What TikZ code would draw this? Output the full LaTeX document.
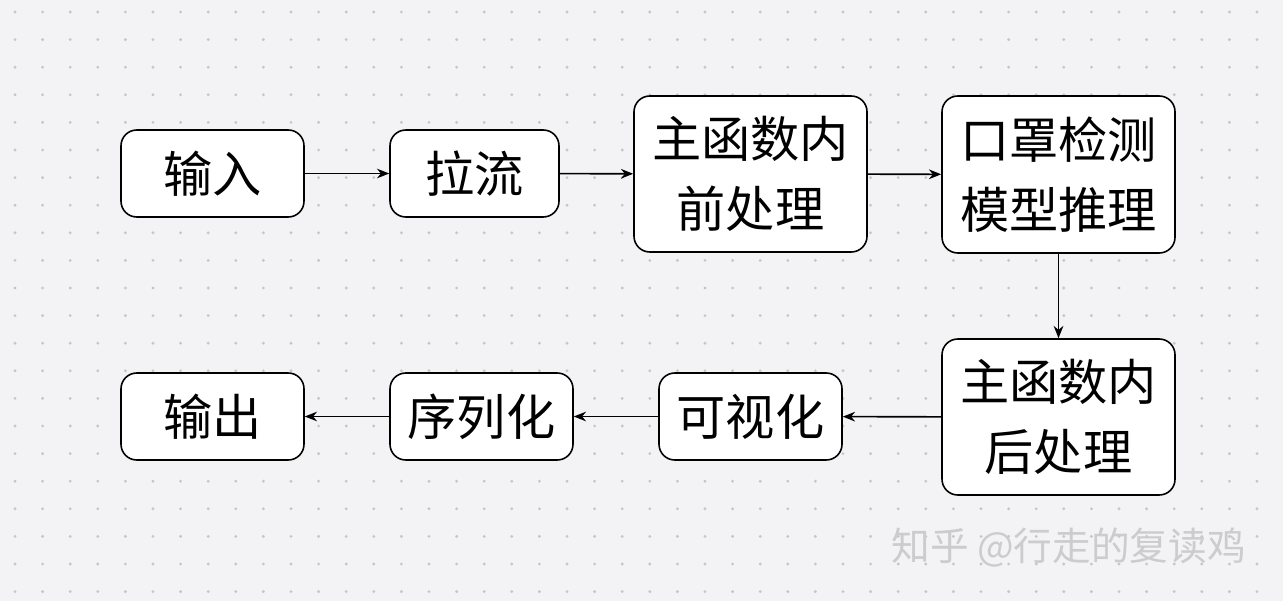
\documentclass[tikz,border=0pt]{standalone}
\usepackage{fontspec}
\newfontfamily\cjk{Noto Sans CJK SC}
\usetikzlibrary{arrows.meta}
\begin{document}
\begin{tikzpicture}[x=0.02cm,y=-0.02cm,
  box/.style={draw=black,line width=0.9pt,fill=white,rounded corners=9pt,inner sep=0pt,font=\cjk\fontsize{28}{40}\selectfont,align=center},
  arr/.style={-{Stealth[length=7pt,width=5.5pt]},line width=0.9pt}]
\fill[color={rgb,255:red,243;green,243;blue,245}] (0,0) rectangle (1283,601);
\useasboundingbox (0,0) rectangle (1283,601);
\foreach \i in {0,...,46}{\foreach \j in {0,...,21}{
  \fill[gray!45] (15+\i*27.6,12+\j*27.6) circle (0.9pt);}}
\node[box,minimum width=183*0.02cm,minimum height=87*0.02cm] (in) at (212.5,173.5) {输入};
\node[box,minimum width=169*0.02cm,minimum height=87*0.02cm] (pull) at (474.5,173.5) {拉流};
\node[box,minimum width=233*0.02cm,minimum height=156*0.02cm] (pre) at (750.5,174) {主函数内\\前处理};
\node[box,minimum width=233*0.02cm,minimum height=157*0.02cm] (det) at (1058.5,174.5) {口罩检测\\模型推理};
\node[box,minimum width=233*0.02cm,minimum height=156*0.02cm] (post) at (1058.5,417) {主函数内\\后处理};
\node[box,minimum width=183*0.02cm,minimum height=87*0.02cm] (vis) at (750.5,416.5) {可视化};
\node[box,minimum width=183*0.02cm,minimum height=87*0.02cm] (ser) at (481.5,416.5) {序列化};
\node[box,minimum width=183*0.02cm,minimum height=87*0.02cm] (out) at (212.5,416.5) {输出};
\draw[arr] (in) -- (pull);
\draw[arr] (pull) -- (pre);
\draw[arr] (pre) -- (det);
\draw[arr] (det) -- (post);
\draw[arr] (post) -- (vis);
\draw[arr] (vis) -- (ser);
\draw[arr] (ser) -- (out);
\node[font=\cjk\fontsize{22}{26}\selectfont,text=gray!40,anchor=east] (wm) at (1252,548) {知乎 @行走的复读鸡};
\end{tikzpicture}
\end{document}
